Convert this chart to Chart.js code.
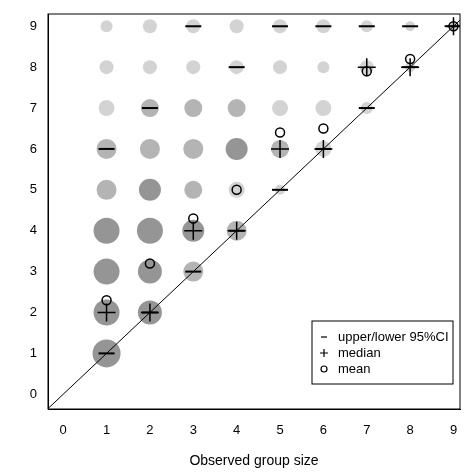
<!DOCTYPE html>
<html><head><meta charset="utf-8">
<script src="https://cdn.jsdelivr.net/npm/chart.js@4"></script>
<style>html,body{margin:0;background:#fff}#c{width:474px;height:474px}</style>
</head><body><div id="c"><canvas id="chart" width="474" height="474"></canvas></div>
<script>
// nuvole di punti: x osservato, y stimato, raggio approssimativo (densità)
var cloudX = [1,1,1,1,1,1,1,1,1, 2,2,2,2,2,2,2,2, 3,3,3,3,3,3,3, 4,4,4,4,4,4, 5,5,5,5,5, 6,6,6,6, 7,7,7, 8,8, 9];
var cloudY = [1,2,3,4,5,6,7,8,9, 2,3,4,5,6,7,8,9, 3,4,5,6,7,8,9, 4,5,6,7,8,9, 5,6,7,8,9, 6,7,8,9, 7,8,9, 8,9, 9];
var cloudR = [14,13,13,13,10,10,8,7,6, 12,12,13,11,10,9,7,7, 10,11,9,10,9,7,7, 10,8,11,9,7,7, 5,9,8,7,7, 8,8,6,7, 6,7,6, 5,5, 4];
// intervalli di confidenza
var ciX = [1,1,2,2,3,3,4,4,5,5,6,6,7,7,8,8,9];
var ciY = [1,6,2,7,3,9,4,8,5,9,6,9,7,9,8,9,9];
// mediana e media
var medX = [1,2,3,4,5,6,7,8,9];
var medY = [2,2,4,4,6,6,8,8,9];
var meanY = [2.3,3.2,4.3,5.0,6.4,6.5,7.9,8.2,9.0];
var xTicks = [0,1,2,3,4,5,6,7,8,9];

function pts(xs, ys) { return xs.map(function(x, i) { return {x: x, y: ys[i]}; }); }

new Chart(document.getElementById('chart'), {
  type: 'scatter',
  data: {
    datasets: [
      {label: 'cloud', data: cloudX.map(function(x, i) { return {x: x, y: cloudY[i], r: cloudR[i]}; }),
       type: 'bubble',
       backgroundColor: cloudR.map(function(r) { return 'rgba(130,130,130,' + (r >= 11 ? 0.85 : r >= 9 ? 0.6 : 0.35) + ')'; }),
       borderWidth: 0, order: 5},
      {label: 'diag', data: [{x: -0.5, y: -0.5}, {x: 9.5, y: 9.5}], type: 'line', showLine: true,
       borderColor: '#000', borderWidth: 1, pointRadius: 0, order: 4},
      {label: 'upper/lower 95%CI', data: pts(ciX, ciY), pointStyle: 'line', pointRadius: 8,
       borderColor: '#000', borderWidth: 2, order: 1},
      {label: 'median', data: pts(medX, medY), pointStyle: 'cross', pointRadius: 9,
       borderColor: '#000', borderWidth: 1.5, order: 1},
      {label: 'mean', data: pts(medX, meanY), pointStyle: 'circle', pointRadius: 4.5,
       borderColor: '#000', backgroundColor: 'rgba(0,0,0,0)', borderWidth: 1.5, order: 1}
    ]
  },
  options: {
    responsive: false, animation: false,
    layout: {padding: {left: 0, right: 0, top: 1, bottom: 0}},
    plugins: {
      legend: {display: false}, tooltip: {enabled: false}
    },
    scales: {
      x: {type: 'linear', min: -0.35, max: 9.15, afterBuildTicks: function(a) { a.ticks = xTicks.map(function(v) { return {value: v}; }); },
          afterFit: function(a) { a.height = 65; },
          grid: {display: false, drawTicks: true, tickLength: 6},
          border: {color: '#000'},
          ticks: {color: '#000', font: {family: 'Liberation Sans', size: 13}, padding: 8},
          title: {display: true, text: 'Observed group size', color: '#000', font: {family: 'Liberation Sans', size: 14}, padding: {top: 14}}},
      y: {type: 'linear', min: -0.36, max: 9.3, afterBuildTicks: function(a) { a.ticks = xTicks.map(function(v) { return {value: v}; }); },
          afterFit: function(a) { a.width = 48; },
          grid: {display: false},
          border: {color: '#000'},
          ticks: {color: '#000', font: {family: 'Liberation Sans', size: 13}}}
    }
  },
  plugins: [{
    id: 'frame',
    afterDraw: function(chart) {
      var ctx = chart.ctx, a = chart.chartArea;
      ctx.save();
      ctx.strokeStyle = '#000'; ctx.lineWidth = 1;
      ctx.strokeRect(a.left, a.top, a.right - a.left, a.bottom - a.top);
      // legenda
      var bx = 312, by = 321, bw = 141, bh = 63;
      ctx.fillStyle = '#fff'; ctx.fillRect(bx, by, bw, bh); ctx.strokeRect(bx, by, bw, bh);
      ctx.fillStyle = '#000'; ctx.font = '13px "Liberation Sans"'; ctx.textBaseline = 'middle';
      var labels = ['upper/lower 95%CI', 'median', 'mean'];
      for (var i = 0; i < 3; i++) {
        var yy = by + 16 + i * 16, xx = bx + 12;
        ctx.lineWidth = 1.2;
        ctx.beginPath();
        if (i === 0) { ctx.moveTo(xx - 3, yy); ctx.lineTo(xx + 3, yy); }
        if (i === 1) { ctx.moveTo(xx - 4, yy); ctx.lineTo(xx + 4, yy); ctx.moveTo(xx, yy - 4); ctx.lineTo(xx, yy + 4); }
        if (i === 2) { ctx.arc(xx, yy, 3, 0, Math.PI * 2); }
        ctx.stroke();
        ctx.fillText(labels[i], bx + 26, yy);
      }
      ctx.restore();
    }
  }]
});
</script></body></html>
